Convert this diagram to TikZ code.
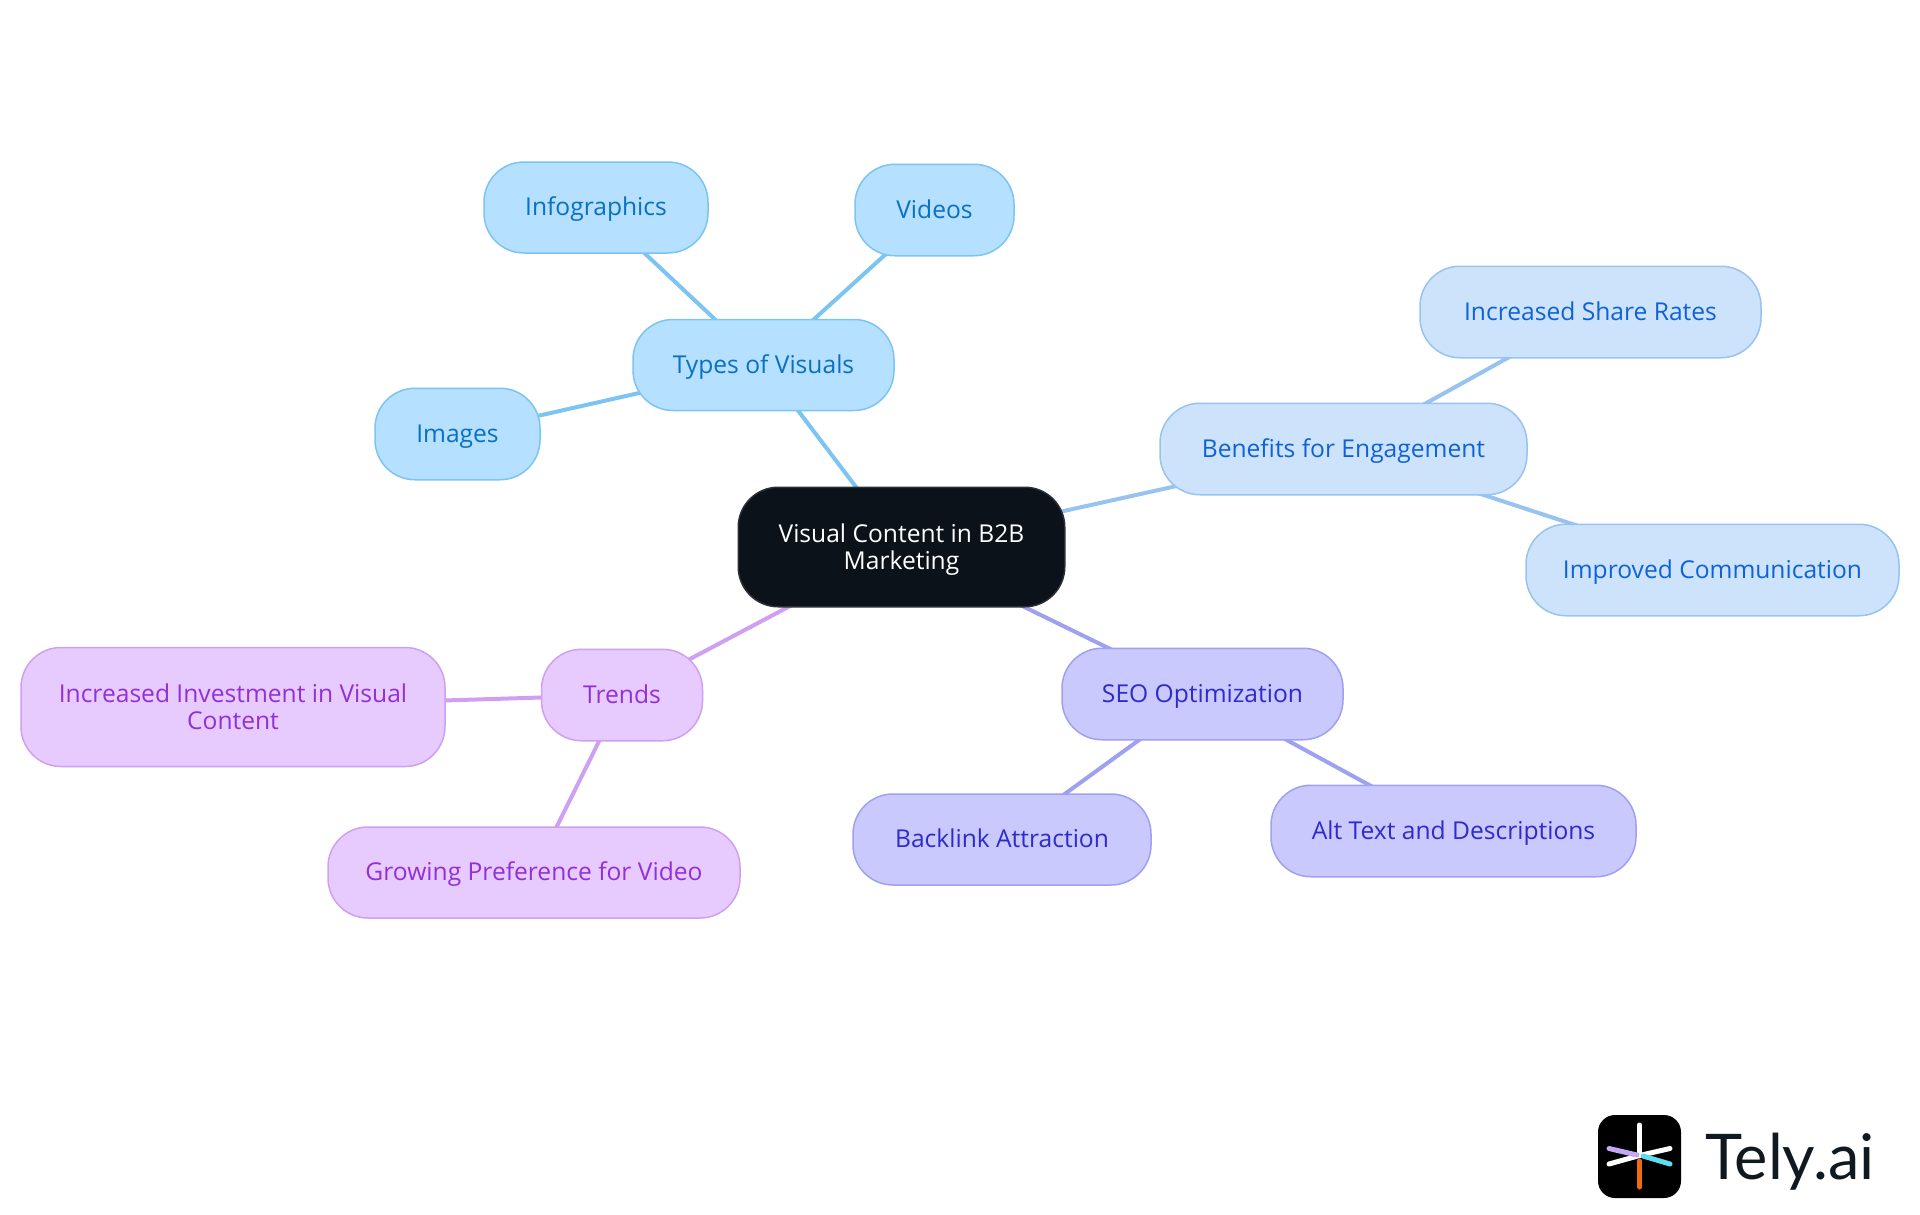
\documentclass[tikz,border=0pt]{standalone}
\usepackage{fontspec}
\setmainfont{Open Sans}
\newfontfamily\logofont{Lato}
\usetikzlibrary{backgrounds}

\definecolor{rootfill}{HTML}{0B1219}
\definecolor{rootline}{HTML}{2A2F36}
\definecolor{skyfill}{HTML}{B5E0FF}
\definecolor{skyline}{HTML}{7CC4F2}
\definecolor{skytext}{HTML}{0A70C2}
\definecolor{palefill}{HTML}{CDE3FC}
\definecolor{paleline}{HTML}{97C3F1}
\definecolor{paletext}{HTML}{0F62D6}
\definecolor{indigofill}{HTML}{C9C9FE}
\definecolor{indigoline}{HTML}{A0A0F0}
\definecolor{indigotext}{HTML}{2E2ACB}
\definecolor{violetfill}{HTML}{E7CBFF}
\definecolor{violetline}{HTML}{CF9FF2}
\definecolor{violettext}{HTML}{9230D8}
\definecolor{logoink}{HTML}{101820}
\definecolor{spokepurple}{HTML}{C4A8F5}
\definecolor{spokecyan}{HTML}{5FDDF0}
\definecolor{spokeorange}{HTML}{F26A0F}

\tikzset{
  topic/.style={rectangle, rounded corners=40pt, line width=1.5pt, align=center,
    inner sep=0pt, font=\fontsize{24.6}{27}\selectfont, text height=20pt, text depth=4pt},
  twolines/.style={text height=, text depth=},
  rootnode/.style={topic, draw=rootline, fill=rootfill, text=white},
  skynode/.style={topic, draw=skyline, fill=skyfill, text=skytext},
  palenode/.style={topic, draw=paleline, fill=palefill, text=paletext},
  indigonode/.style={topic, draw=indigoline, fill=indigofill, text=indigotext},
  violetnode/.style={topic, draw=violetline, fill=violetfill, text=violettext},
  link/.style={line width=4pt},
  spoke/.style={line width=5pt, line cap=round},
}

\begin{document}
\begin{tikzpicture}[x=1pt, y=-1pt]
    \useasboundingbox (0, 0) rectangle (1920, 1215);

    % Central topic
    \node[rootnode, twolines, minimum width=326.5pt, minimum height=119.5pt] (root) at (901.5, 547) {\rule{0pt}{23pt}Visual Content in B2B\\Marketing};

    % Types of visuals
    \node[skynode, minimum width=261pt, minimum height=91pt] (visuals) at (763.5, 365) {Types of Visuals};
    \node[skynode, minimum width=224pt, minimum height=91pt] (infographics) at (596, 207.5) {Infographics};
    \node[skynode, minimum width=159pt, minimum height=91.5pt] (videos) at (934.5, 210) {Videos};
    \node[skynode, minimum width=165pt, minimum height=91.5pt] (images) at (457.5, 434) {Images};

    % Benefits
    \node[palenode, minimum width=367pt, minimum height=91.5pt] (benefits) at (1343.5, 449) {Benefits for Engagement};
    \node[palenode, minimum width=341pt, minimum height=91.5pt] (shares) at (1590.5, 312) {Increased Share Rates};
    \node[palenode, minimum width=373pt, minimum height=91.5pt] (communication) at (1712.5, 570) {Improved Communication};

    % SEO
    \node[indigonode, minimum width=281pt, minimum height=91.5pt] (seo) at (1202.5, 694) {SEO Optimization};
    \node[indigonode, minimum width=298pt, minimum height=91pt] (backlink) at (1002, 839.5) {Backlink Attraction};
    \node[indigonode, minimum width=365pt, minimum height=91.5pt] (alttext) at (1453.5, 831) {Alt Text and Descriptions};

    % Trends
    \node[violetnode, minimum width=161pt, minimum height=91.5pt] (trends) at (622, 695) {Trends};
    \node[violetnode, twolines, minimum width=424pt, minimum height=119pt] (investment) at (233, 707) {\rule{0pt}{23pt}Increased Investment in Visual\\Content\vphantom{g}};
    \node[violetnode, minimum width=412pt, minimum height=91pt] (preference) at (534, 872.5) {Growing Preference for Video};

    % Links go behind the boxes
    \begin{scope}[on background layer]
        \draw[link, skyline] (root.center) -- (visuals.center);
        \draw[link, skyline] (visuals.center) -- (infographics.center);
        \draw[link, skyline] (visuals.center) -- (videos.center);
        \draw[link, skyline] (visuals.center) -- (images.center);
        \draw[link, paleline] (root.center) -- (benefits.center);
        \draw[link, paleline] (benefits.center) -- (shares.center);
        \draw[link, paleline] (benefits.center) -- (communication.center);
        \draw[link, indigoline] (root.center) -- (seo.center);
        \draw[link, indigoline] (seo.center) -- (backlink.center);
        \draw[link, indigoline] (seo.center) -- (alttext.center);
        \draw[link, violetline] (root.center) -- (trends.center);
        \draw[link, violetline] (trends.center) -- (investment.center);
        \draw[link, violetline] (trends.center) -- (preference.center);
    \end{scope}

    % Logo
    \fill[black, rounded corners=17pt] (1598, 1115) rectangle (1681, 1198);
    \draw[spoke, white] (1639.5, 1155.5) -- (1639.5, 1125);
    \draw[spoke, white] (1639.5, 1155.5) -- (1670, 1148.5);
    \draw[spoke, white] (1639.5, 1155.5) -- (1609, 1164);
    \draw[spoke, spokepurple] (1637, 1155) -- (1609, 1148.5);
    \draw[spoke, spokecyan] (1643, 1156) -- (1670, 1164);
    \draw[spoke, spokeorange] (1639.5, 1161) -- (1639.5, 1187);
    \node[anchor=base west, inner sep=0pt, text=logoink, font=\logofont\fontsize{63}{63}\selectfont] (logotext) at (1705, 1179) {Tely.ai};
\end{tikzpicture}
\end{document}
